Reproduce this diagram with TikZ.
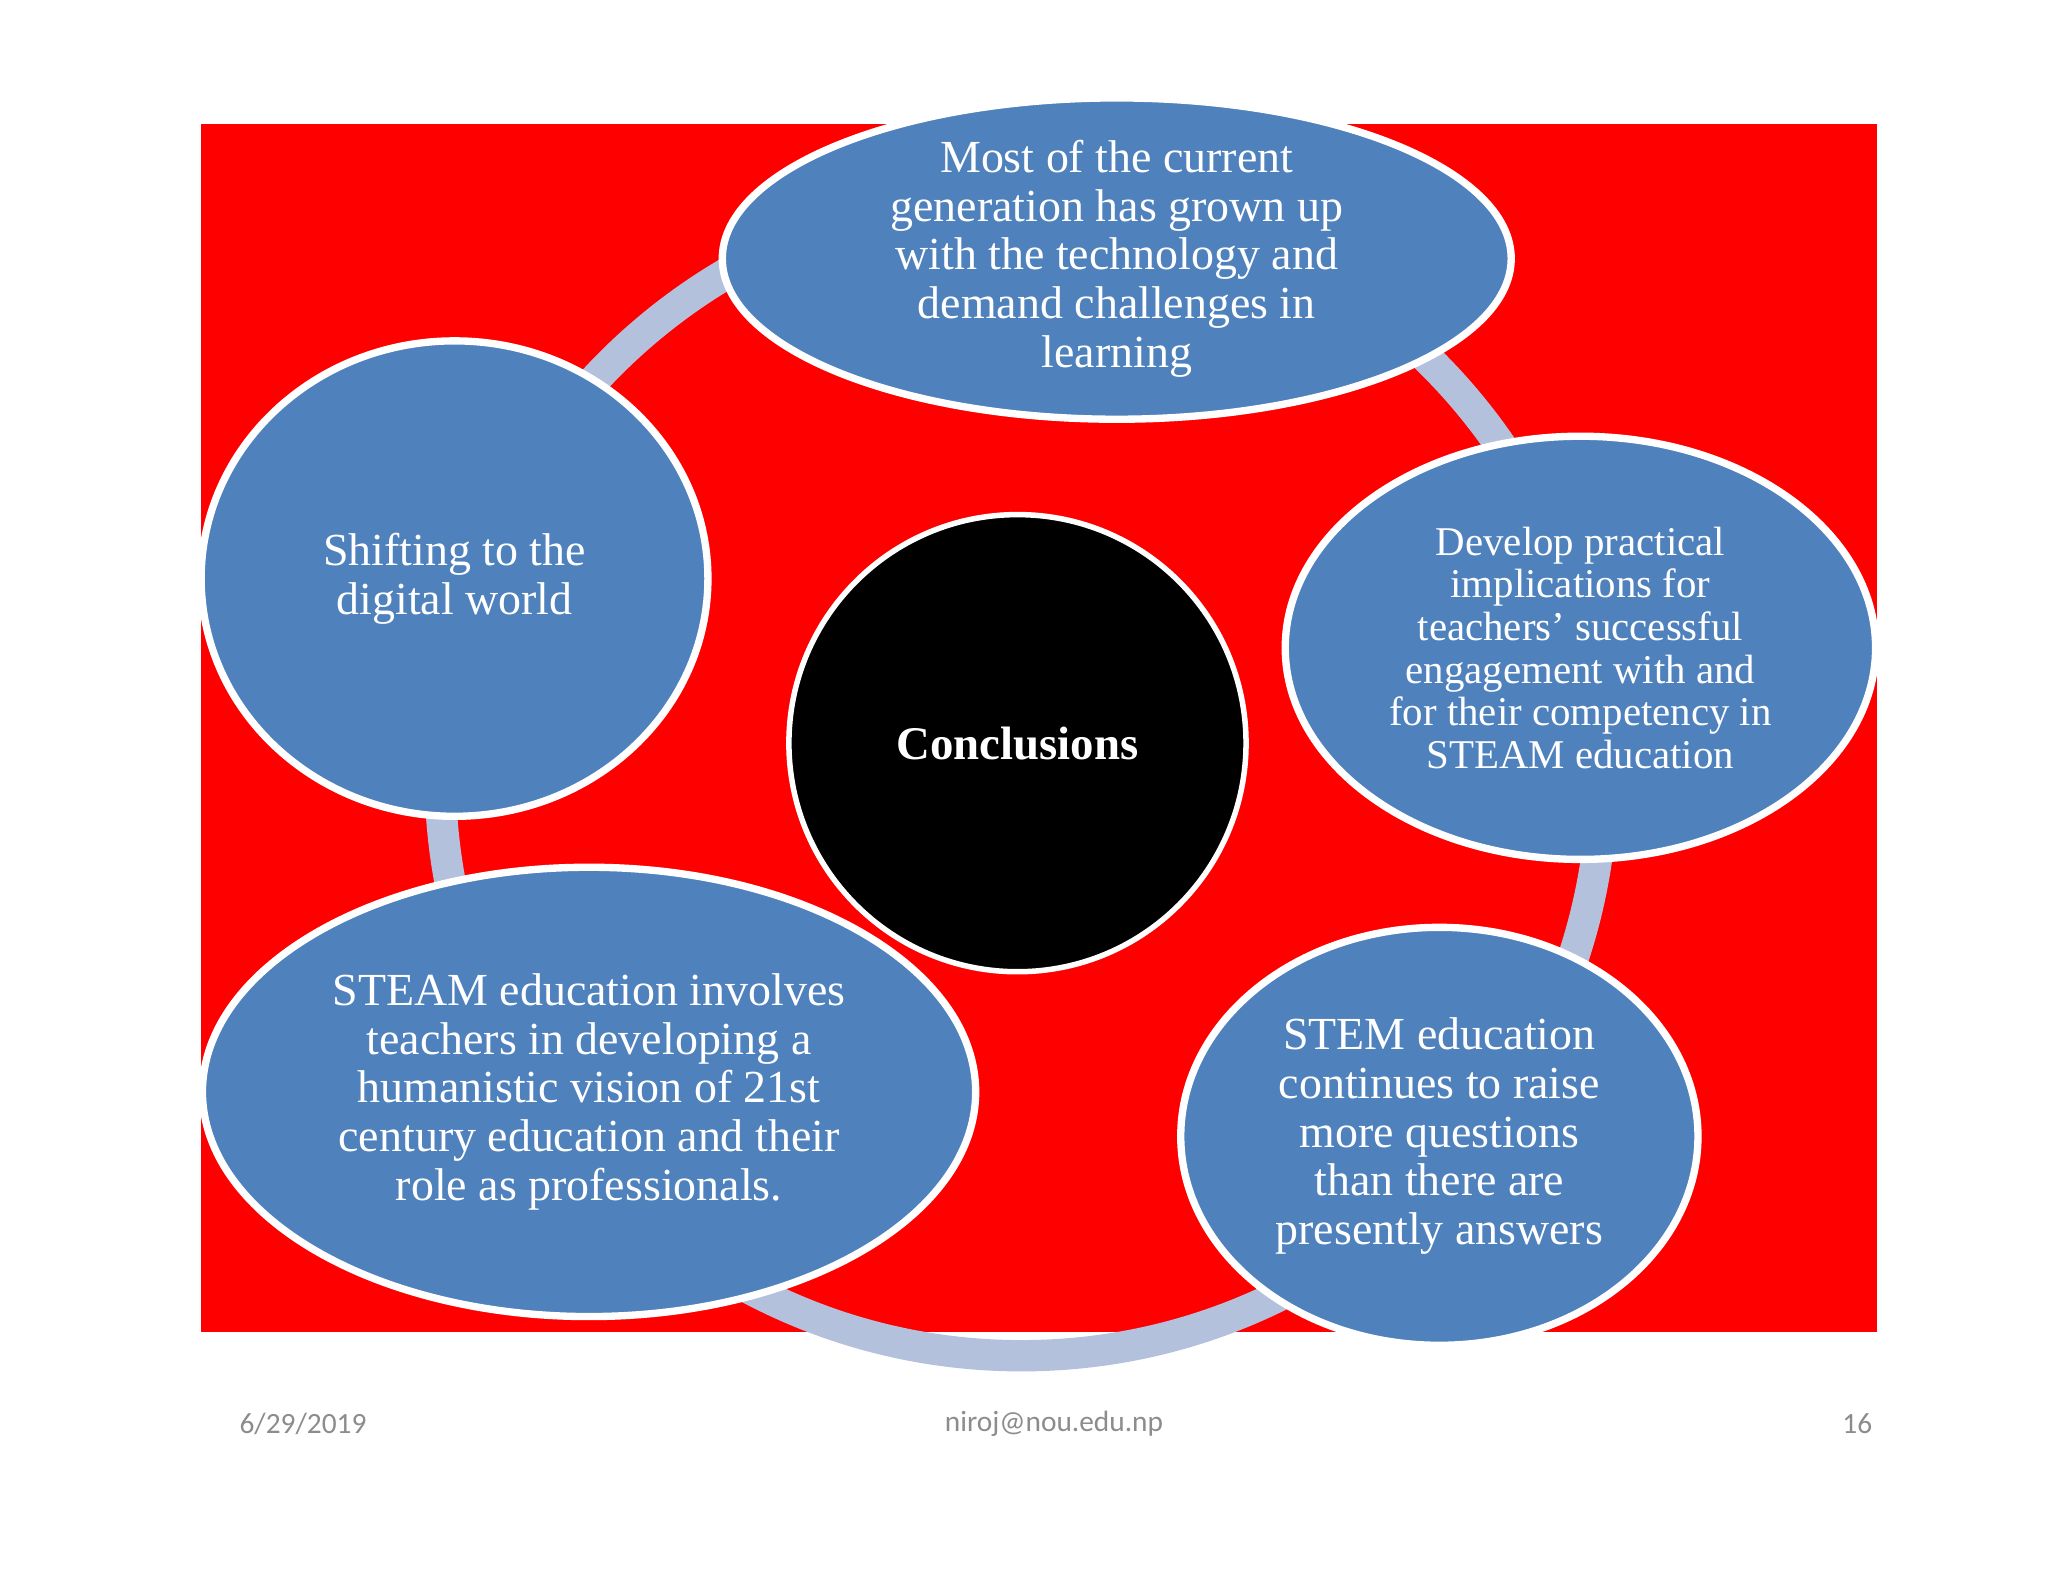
\documentclass[tikz,border=0pt]{standalone}
\usepackage{fontspec}
\setmainfont{Liberation Serif}
\newfontfamily\footfont{Carlito}
\usetikzlibrary{shapes.geometric}
\definecolor{slide}{HTML}{FF0000}
\definecolor{bub}{HTML}{4F81BD}
\definecolor{ringc}{HTML}{B4C1DD}
\definecolor{foot}{HTML}{8C8C8C}
\begin{document}
\begin{tikzpicture}[x=1cm,y=1cm,
  bubble/.style={ellipse,fill=bub,draw=white,line width=1.6pt,text=white,align=center,inner sep=0pt},
  btext/.style={font=\fontsize{10}{10.6}\selectfont},
  foottext/.style={font=\footfont\fontsize{6.4}{7}\selectfont,text=foot}]
\useasboundingbox (0,0) rectangle (15.68,12.10);
\fill[slide] (1.54,12.10-0.95) rectangle (14.37,12.10-10.20);
\draw[ringc,line width=0.24cm] (7.82,12.10-5.93) circle (4.45);
\node[circle,fill=black,draw=white,line width=1.2pt,minimum size=3.5cm,text=white,font=\bfseries\fontsize{10.2}{12}\selectfont] (c) at (7.79,12.10-5.69) {Conclusions};
\path (8.55,12.10-1.98) node[bubble,minimum width=6.04cm,minimum height=2.46cm] (t) {};
\node[btext,text=white,align=center] at (t) {Most of the current\\generation has grown up\\with the technology and\\demand challenges in\\learning};
\path (3.48,12.10-4.43) node[bubble,minimum width=3.88cm,minimum height=3.64cm] (l) {};
\node[btext,text=white,align=center] at (3.48,12.10-4.43) {Shifting to the\\digital world};
\path (12.10,12.10-4.96) node[bubble,minimum width=4.52cm,minimum height=3.24cm] (r) {};
\node[font=\fontsize{8.9}{9.3}\selectfont,text=white,align=center] at (r) {Develop practical\\implications for\\teachers’ successful\\engagement with and\\for their competency in\\STEAM education};
\path (11.02,12.10-8.70) node[bubble,minimum width=3.96cm,minimum height=3.20cm] (br) {};
\node[btext,text=white,align=center] at (br) {STEM education\\continues to raise\\more questions\\than there are\\presently answers};
\path (4.51,12.10-8.36) node[bubble,minimum width=5.92cm,minimum height=3.44cm] (bl) {};
\node[btext,text=white,align=center] at (4.51,12.10-8.36) {STEAM education involves\\teachers in developing a\\humanistic vision of 21st\\century education and their\\role as professionals.};
\node[foottext] (d) at (2.32,12.10-10.90) {6/29/2019};
\node[foottext] (e) at (8.07,12.10-10.90) {niroj@nou.edu.np};
\node[foottext] (p) at (14.22,12.10-10.90) {16};
\end{tikzpicture}
\end{document}
